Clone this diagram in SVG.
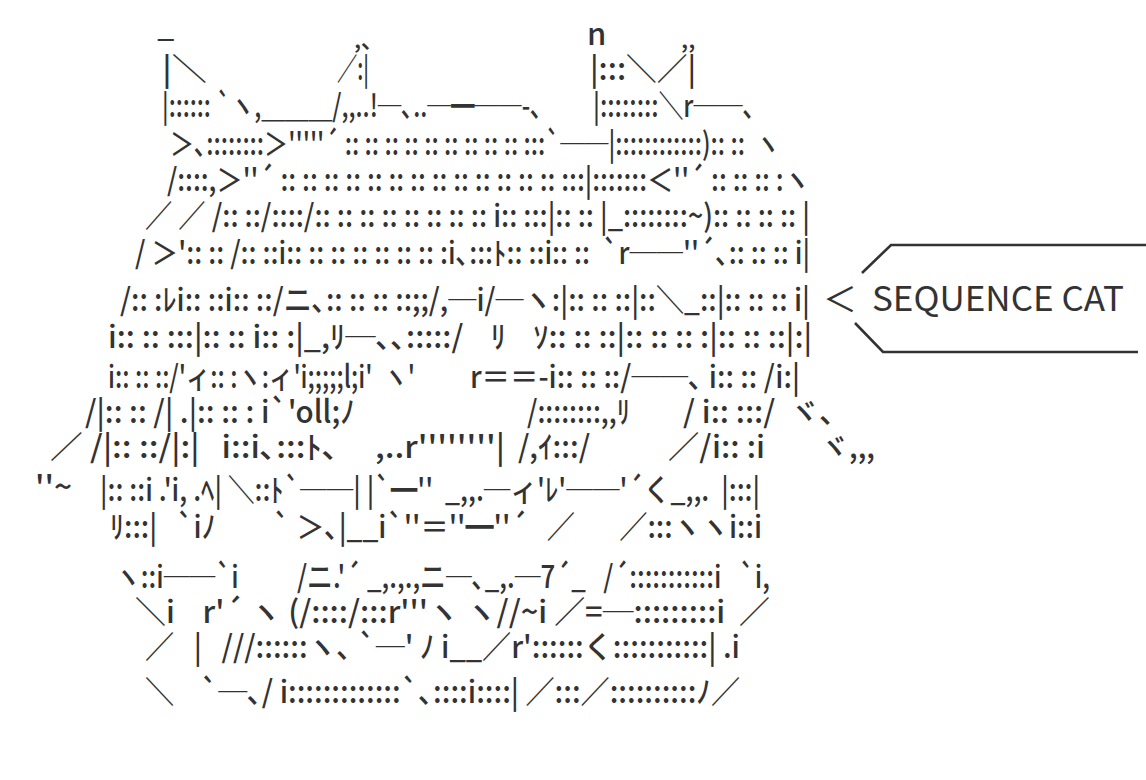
<svg xmlns="http://www.w3.org/2000/svg" width="1146" height="780" viewBox="0 0 1146 780">
<style>
text{font-family:"Noto Sans CJK JP","DejaVu Sans",sans-serif;font-size:31px;font-weight:500;fill:#333;white-space:pre}
.b{stroke:#333;stroke-width:2.6;fill:none}
</style>
<rect width="1146" height="780" fill="#fff"/>
<g id="art">
<text x="158" y="62">‾</text>
<text x="354" y="48" style="font-size:24px">,､</text>
<text x="587" y="45">n</text>
<text x="681" y="48" style="font-size:24px">,,</text>
<text x="162" y="80" textLength="45" lengthAdjust="spacingAndGlyphs">|＼</text>
<text x="337" y="80" textLength="32" lengthAdjust="spacingAndGlyphs">／:|</text>
<text x="590" y="80" textLength="106" lengthAdjust="spacingAndGlyphs">|:::＼／|</text>
<text x="162" y="117" textLength="380" lengthAdjust="spacingAndGlyphs">|:::::: `ヽ,＿＿＿/,,..!─､..─━──-､</text>
<text x="593" y="117" textLength="162" lengthAdjust="spacingAndGlyphs">|::::::::＼r──､</text>
<text x="170" y="155" textLength="610" lengthAdjust="spacingAndGlyphs">＞､::::::::＞'''''´ :: :: :: :: :: :: :: :: :: :::`──|::::::::::::):: ::  ヽ</text>
<text x="167" y="191" textLength="643" lengthAdjust="spacingAndGlyphs">/::::,＞''´ :: :: :: :: :: :: :: :: :: :: :: :: :: :::|:::::::＜''´ :: :: :: :ヽ</text>
<text x="145" y="227" textLength="665" lengthAdjust="spacingAndGlyphs">／ ／ /:: ::/::::/:: :: :: :: :: :: :: :: i:: :::|:: :: |_::::::::~):: :: :: :: |</text>
<text x="135" y="264" textLength="675" lengthAdjust="spacingAndGlyphs">/ ＞':: :: /:: ::i:: :: :: :: :: :: :: :i､:::ﾄ:: ::i:: ::  `r──''´､:: :: :: i|</text>
<text x="120" y="311" textLength="690" lengthAdjust="spacingAndGlyphs">/:: :ﾚi:: ::i:: ::/ニ､:: :: :: ::;;/,─i/─ヽ:|:: :: ::|::＼_::|:: :: :: i|</text>
<text x="823" y="312" textLength="34" lengthAdjust="spacingAndGlyphs" style="font-size:34px;font-weight:400">＜</text>
<text x="872" y="311" textLength="252" lengthAdjust="spacingAndGlyphs" style="font-size:34px;font-weight:400">SEQUENCE CAT</text>
<text x="108" y="348" textLength="704" lengthAdjust="spacingAndGlyphs">i:: :: :::|:: :: i:: :|_,ﾘ─､､:::::/    ﾘ    ｿ:: :: ::|:: :: :: :|:: :: ::|:|</text>
<text x="108" y="388" textLength="307" lengthAdjust="spacingAndGlyphs">i:: :: ::/'ィ:: :ヽ:ィ'i;;;;;l;i'  ヽ'</text>
<text x="470" y="388" textLength="330" lengthAdjust="spacingAndGlyphs">r＝＝-i:: :: ::/──､ i:: :: /i:|</text>
<text x="85" y="423" textLength="270" lengthAdjust="spacingAndGlyphs">/|:: :: /| .|:: :: : i`'oll;ﾉ</text>
<text x="527" y="423" textLength="103" lengthAdjust="spacingAndGlyphs">/::::::::,,ﾘ</text>
<text x="683" y="423" textLength="152" lengthAdjust="spacingAndGlyphs">/ i:: :::/  ヾ､</text>
<text x="50" y="458" textLength="455" lengthAdjust="spacingAndGlyphs">／ /|:: ::/|:|   i::i､:::ﾄ､     ,..r''''''''|</text>
<text x="518" y="458" textLength="72" lengthAdjust="spacingAndGlyphs">/,ｲ:::/</text>
<text x="668" y="458" textLength="97" lengthAdjust="spacingAndGlyphs">／/i:: :i</text>
<text x="820" y="458" textLength="55" lengthAdjust="spacingAndGlyphs">ヾ,,,</text>
<text x="35" y="498" textLength="37" lengthAdjust="spacingAndGlyphs">''~</text>
<text x="100" y="501" textLength="660" lengthAdjust="spacingAndGlyphs">|:: ::i .'i, .ﾍ| ＼::ﾄ`──| |`━''  _,,.─ィ'ﾚ'──'´く_,,.  |:::|</text>
<text x="110" y="538" textLength="652" lengthAdjust="spacingAndGlyphs">ﾘ:::|   `iﾉ         ` ＞､|__i`''＝''━''´   ／       ／:::ヽヽi::i</text>
<text x="115" y="588" textLength="655" lengthAdjust="spacingAndGlyphs">ヽ::i──`i          /ニ.'´ _,.,.,ニ─､_,.─7´_   /´:::::::::::i   `i,</text>
<text x="135" y="623" textLength="635" lengthAdjust="spacingAndGlyphs">＼i    r'´ ヽ (/::::/:::r'''ヽ ヽ//~i ／=─:::::::::i  ／</text>
<text x="145" y="658" textLength="595" lengthAdjust="spacingAndGlyphs">／   |   ///::::::ヽ､ `─' ﾉ i__／r'::::::く:::::::::::| .i</text>
<text x="145" y="703" textLength="595" lengthAdjust="spacingAndGlyphs">＼    `─､/ i:::::::::::::`､::::i::::| ／:::／::::::::::ﾉ／</text>
</g>
<g id="bubble">
<path class="b" d="M862,273 L891,245 L1146,245"/>
<path class="b" d="M855,323 L883,352 L1138,352"/>
</g>
</svg>
